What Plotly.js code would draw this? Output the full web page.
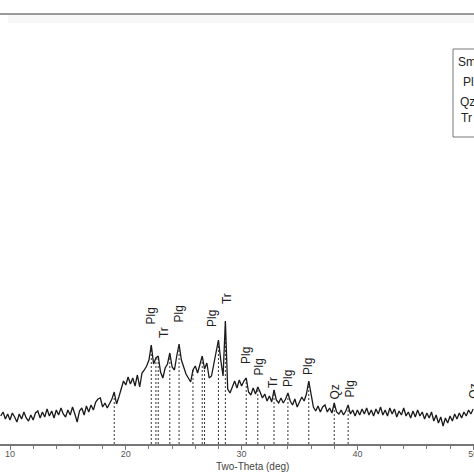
<!DOCTYPE html>
<html>
<head>
<meta charset="utf-8">
<script src="https://cdn.plot.ly/plotly-3.0.1.min.js"></script>
<style>
  html, body { margin: 0; padding: 0; background: #ffffff; }
  #chart { width: 474px; height: 474px; }
</style>
</head>
<body>
<div id="chart"></div>
<script>
const thetaStart = 9.2;      // first 2-theta sample (deg)
const thetaStep = 0.2;       // sampling step (deg)
const intensity = [
  28,32,25,30,24,31,27,22,30,25,
  32,26,23,29,24,31,33,26,32,27,
  35,28,33,26,34,29,36,30,27,34,
  29,37,30,22,33,36,29,38,32,39,
  34,42,45,46,37,41,36,40,45,52,
  40,47,55,63,59,67,60,66,58,69,
  57,71,74,78,84,99,80,86,88,72,
  66,76,80,91,77,74,88,100,84,76,
  70,66,62,74,78,71,80,88,75,81,
  66,68,80,92,104,84,68,123,55,51,
  58,63,56,64,58,63,66,52,49,56,
  50,57,52,46,50,43,48,42,54,44,
  41,46,41,45,51,43,39,45,37,43,
  47,43,50,63,50,37,33,38,32,37,
  39,32,36,31,41,32,30,34,29,33,
  39,30,34,28,34,29,35,30,36,29,
  34,28,35,30,37,29,34,28,36,30,
  35,27,33,29,36,28,32,26,33,27,
  34,28,32,25,31,26,32,23,29,21,
  27,18,26,21,28,23,30,25,31,26,
  32,28,34,30,35
];
// positions of the marked reflections (dotted drop lines)
const peakPos = [19.0, 22.2, 22.6, 22.8, 23.8, 24.6, 25.8, 26.6, 26.8, 28.0, 28.6,
                 30.4, 31.4, 32.8, 34.0, 35.8, 38.0, 39.2];
// phase labels
const labelText = ['Plg','Tr','Plg','Plg','Tr','Plg','Plg','Tr','Plg','Plg','Qz','Plg','Qz'];
const labelPos  = [22.09, 23.30, 24.51, 27.44, 28.74, 30.38, 31.42, 32.71, 34.01, 35.73, 37.98, 39.36, 50.0];
const labelY    = [127.5, 111, 129.5, 126, 145, 88, 76.5, 62, 65, 78, 51.5, 55.5, 52.5];
// legend box entries
const legendText = ['Sm', 'Plg', 'Qz', 'Tr'];
const xTicks = [10, 20, 30, 40, 50];

// ---- build traces ----
const twoTheta = intensity.map((_, i) => +(thetaStart + i * thetaStep).toFixed(2));

const dropX = [], dropY = [];
peakPos.forEach(p => {
  const idx = Math.round((p - thetaStart) / thetaStep);
  dropX.push(p, p, null);
  dropY.push(0, intensity[idx], null);
});

const font = 'Liberation Sans, Arial, sans-serif';

const traces = [
  {
    x: dropX, y: dropY, type: 'scatter', mode: 'lines',
    line: { color: '#333333', width: 1, dash: '2px,2px' },
    hoverinfo: 'skip', showlegend: false
  },
  {
    x: twoTheta, y: intensity, type: 'scatter', mode: 'lines',
    line: { color: '#1a1a1a', width: 1.3 },
    showlegend: false
  }
];

const annotations = labelText.map((t, i) => ({
  x: labelPos[i], y: labelY[i], xref: 'x', yref: 'y',
  text: t, textangle: -90, showarrow: false,
  xanchor: 'center', yanchor: 'middle',
  font: { family: font, size: 12, color: '#222222' }
}));

// legend box text
const legendY = [62, 82, 102, 118];
const legendX = [456, 461, 458, 459];
legendText.forEach((t, i) => {
  annotations.push({
    x: legendX[i] / 474, y: (444 - legendY[i]) / 430, xref: 'paper', yref: 'paper',
    text: t, showarrow: false, xanchor: 'left', yanchor: 'middle',
    font: { family: font, size: 12, color: '#222222' }
  });
});

// axis title
annotations.push({
  x: 30.9, y: (444 - 466) / 430, xref: 'x', yref: 'paper',
  text: 'Two-Theta (deg)', showarrow: false, xanchor: 'center', yanchor: 'middle',
  font: { family: font, size: 10, color: '#444444' }
});

const layout = {
  width: 474, height: 474,
  margin: { l: 0, r: 0, t: 14, b: 30, pad: 0 },
  paper_bgcolor: '#ffffff', plot_bgcolor: '#ffffff',
  showlegend: false,
  xaxis: {
    range: [9.136, 50.07],
    showgrid: false, zeroline: false,
    showline: true, linecolor: '#777777', linewidth: 1.5,
    ticks: 'outside', ticklen: 4, tickcolor: '#777777', tickwidth: 1,
    tickmode: 'array', tickvals: xTicks,
    ticklabeloverflow: 'allow',
    ticklabelstandoff: -3,
    minor: { dtick: 2, tick0: 0, ticks: 'outside', ticklen: 3, tickcolor: '#777777' },
    tickfont: { family: font, size: 9, color: '#555555' },
    fixedrange: true
  },
  yaxis: {
    range: [0, 430], visible: false, showgrid: false, zeroline: false, fixedrange: true
  },
  shapes: [
    { type: 'rect', xref: 'paper', yref: 'paper', x0: 8 / 474, x1: 1,
      y0: (444 - 23) / 430, y1: (444 - 15) / 430,
      fillcolor: '#f7f7f7', line: { width: 0 }, layer: 'below' },
    { type: 'line', xref: 'paper', yref: 'paper', x0: 0, x1: 1, y0: 1, y1: 1,
      line: { color: '#9a9a9a', width: 2 } },
    { type: 'rect', xref: 'paper', yref: 'paper', x0: 453 / 474, x1: 1.06,
      y0: (444 - 137) / 430, y1: (444 - 49) / 430,
      fillcolor: 'rgba(255,255,255,0)', line: { color: '#777777', width: 1 } }
  ],
  annotations: annotations
};

Plotly.newPlot('chart', traces, layout, { displayModeBar: false, staticPlot: true });
</script>
</body>
</html>
